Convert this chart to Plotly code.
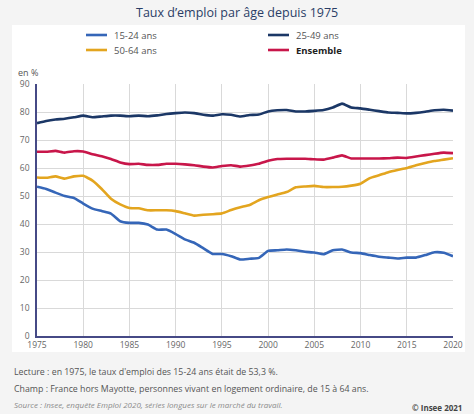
import plotly.graph_objects as go

years = list(range(1975, 2021))

emploi_15_24 = [53.3, 52.5, 51.2, 50.0, 49.3, 47.3, 45.5, 44.6, 43.7, 41.0,
                40.4, 40.4, 39.8, 38.0, 38.0, 36.4, 34.5, 33.3, 31.3, 29.3,
                29.3, 28.5, 27.3, 27.6, 27.9, 30.4, 30.6, 30.9, 30.6, 30.1,
                29.8, 29.2, 30.6, 30.9, 29.8, 29.6, 28.9, 28.3, 28.0, 27.7,
                28.0, 28.0, 28.9, 29.9, 29.7, 28.5]

emploi_25_49 = [76.0, 76.8, 77.3, 77.6, 78.1, 78.7, 78.1, 78.4, 78.7, 78.7,
                78.5, 78.7, 78.5, 78.8, 79.3, 79.6, 79.8, 79.6, 79.0, 78.7,
                79.2, 79.0, 78.4, 78.9, 79.1, 80.2, 80.6, 80.7, 80.2, 80.2,
                80.4, 80.7, 81.6, 83.0, 81.6, 81.3, 80.8, 80.3, 79.8, 79.7,
                79.5, 79.7, 80.1, 80.6, 80.8, 80.5]

emploi_50_64 = [56.6, 56.5, 57.0, 56.2, 57.0, 57.2, 55.5, 52.5, 49.0, 47.0,
                45.7, 45.6, 44.9, 44.9, 44.9, 44.6, 43.8, 43.0, 43.3, 43.5,
                43.8, 45.0, 46.0, 46.8, 48.5, 49.6, 50.5, 51.4, 53.1, 53.4,
                53.6, 53.2, 53.2, 53.3, 53.7, 54.4, 56.4, 57.4, 58.5, 59.3,
                60.0, 61.0, 61.8, 62.5, 63.0, 63.5]

emploi_ensemble = [65.8, 65.8, 66.1, 65.5, 66.0, 65.9, 64.9, 64.2, 63.2, 62.0,
                   61.4, 61.5, 61.1, 61.1, 61.5, 61.5, 61.3, 61.0, 60.5, 60.2,
                   60.7, 61.0, 60.5, 60.9, 61.5, 62.6, 63.2, 63.3, 63.3, 63.3,
                   63.1, 63.0, 63.7, 64.5, 63.4, 63.4, 63.4, 63.4, 63.5, 63.7,
                   63.6, 64.1, 64.6, 65.1, 65.5, 65.3]

series_names = ["15-24 ans", "25-49 ans", "50-64 ans", "Ensemble"]
series_values = [emploi_15_24, emploi_25_49, emploi_50_64, emploi_ensemble]
series_colors = ["#3566b8", "#1b3766", "#e3a51f", "#c8164a"]

x_ticks = list(range(1975, 2021, 5))
y_ticks = list(range(0, 91, 10))

W, H = 474, 414
L, R, T, B = 37, 453, 84, 336


def px(x):
    return (x - L) / (R - L)


def py(y):
    return (B - y) / (B - T)


FONT = "Open Sans"

fig = go.Figure()
for name, vals, col in zip(series_names, series_values, series_colors):
    fig.add_trace(go.Scatter(x=years, y=vals, mode="lines", name=name,
                             line=dict(color=col, width=2.6, shape="spline", smoothing=0.4),
                             hoverinfo="x+y+name"))

shapes = [
    dict(type="rect", xref="paper", yref="paper", x0=px(12), x1=px(465),
         y0=py(352), y1=py(25), fillcolor="white", line=dict(width=0), layer="below"),
]
annotations = [
    dict(text="Taux d’emploi par âge depuis 1975", xref="paper", yref="paper",
         x=px(237), y=py(13), xanchor="center", yanchor="middle", showarrow=False,
         font=dict(family=FONT, size=12.5, color="#2a3d66")),
    dict(text="en %", xref="paper", yref="paper", x=px(16), y=py(73),
         xanchor="left", yanchor="middle", showarrow=False,
         font=dict(family=FONT, size=9, color="#555555")),
    dict(text="Lecture : en 1975, le taux d'emploi des 15-24 ans était de 53,3 %.",
         xref="paper", yref="paper", x=px(12), y=py(372), xanchor="left", yanchor="middle",
         showarrow=False, font=dict(family=FONT, size=8.8, color="#555555")),
    dict(text="Champ : France hors Mayotte, personnes vivant en logement ordinaire, de 15 à 64 ans.",
         xref="paper", yref="paper", x=px(12), y=py(389), xanchor="left", yanchor="middle",
         showarrow=False, font=dict(family=FONT, size=8.8, color="#555555")),
    dict(text="<i>Source : Insee, enquête Emploi 2020, séries longues sur le marché du travail.</i>",
         xref="paper", yref="paper", x=px(12), y=py(404), xanchor="left", yanchor="middle",
         showarrow=False, font=dict(family=FONT, size=8, color="#8a8a8a")),
    dict(text="<b>© Insee 2021</b>", xref="paper", yref="paper", x=px(464), y=py(407),
         xanchor="right", yanchor="middle", showarrow=False,
         font=dict(family=FONT, size=8, color="#444444")),
]

legend_pos = [(86, 35), (268, 35), (86, 50), (268, 50)]
for (lx, ly), name, col in zip(legend_pos, series_names, series_colors):
    shapes.append(dict(type="line", xref="paper", yref="paper", x0=px(lx), x1=px(lx + 21),
                       y0=py(ly), y1=py(ly), line=dict(color=col, width=2.6)))
    label = "<b>%s</b>" % name if name == "Ensemble" else name
    annotations.append(dict(text=label, xref="paper", yref="paper", x=px(lx + 26), y=py(ly),
                            xanchor="left", yanchor="middle", showarrow=False,
                            font=dict(family=FONT, size=9.5,
                                      color="#222222" if name == "Ensemble" else "#555555")))

fig.update_layout(
    width=W, height=H,
    margin=dict(l=L, r=W - R, t=T, b=H - B),
    paper_bgcolor="#f4f4f4", plot_bgcolor="white",
    showlegend=False,
    shapes=shapes, annotations=annotations,
    font=dict(family=FONT, color="#666666"),
    xaxis=dict(range=[1975, 2020], tickmode="array", tickvals=x_ticks,
               ticktext=[str(t) for t in x_ticks], showgrid=True, gridcolor="#d9d9d9",
               gridwidth=1, zeroline=False, showline=True, linecolor="#464a86", linewidth=1.5,
               ticks="", tickfont=dict(family=FONT, size=8.5, color="#666666")),
    yaxis=dict(range=[0, 90], tickmode="array", tickvals=y_ticks,
               showgrid=True, gridcolor="#d9d9d9", gridwidth=1, zeroline=False,
               showline=True, linecolor="#464a86", linewidth=1.5, ticks="",
               ticklabelstandoff=4,
               tickfont=dict(family=FONT, size=8.5, color="#666666")),
)

fig.write_html("out.html", config={"displayModeBar": False},
               post_script="document.body.style.margin='0';document.body.style.overflow='hidden';")
